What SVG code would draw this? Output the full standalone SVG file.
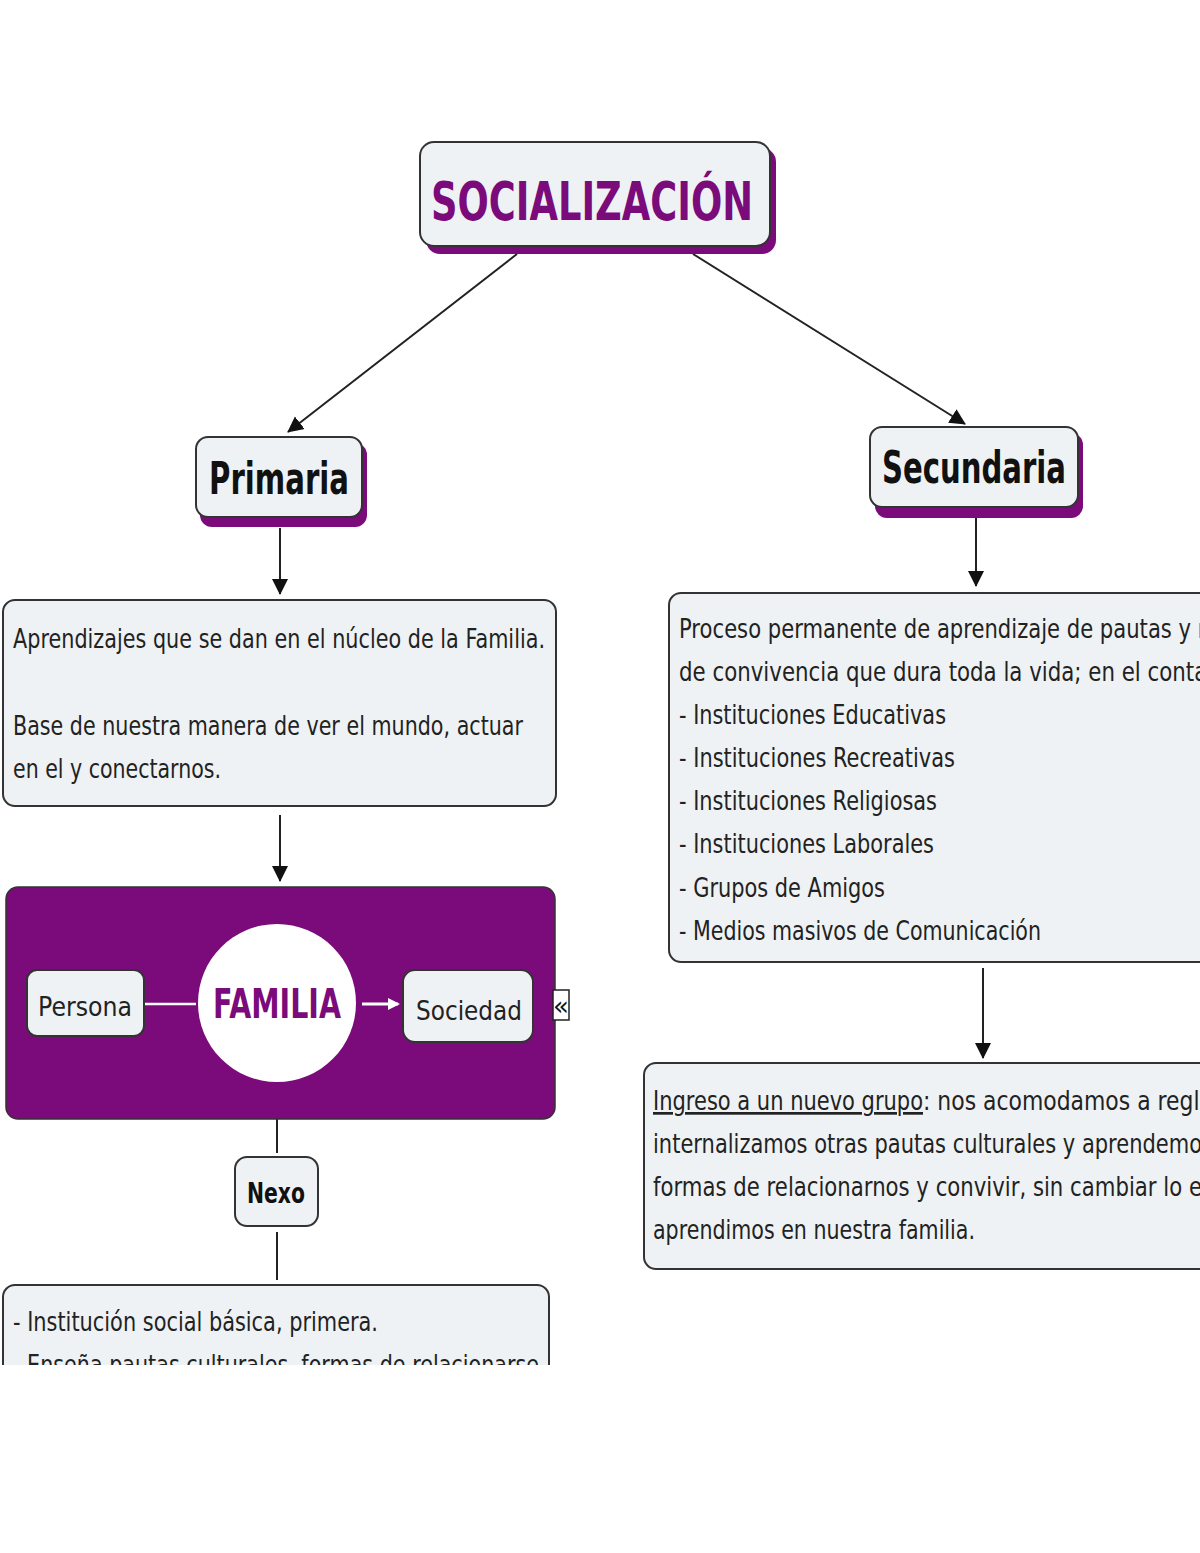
<svg xmlns="http://www.w3.org/2000/svg" width="1200" height="1553" viewBox="0 0 1200 1553">
<style>
.box{fill:#eef2f4;stroke:#333;stroke-width:2}
.sh{fill:#7b0a7b}
.t{font-family:"DejaVu Sans","Liberation Sans",sans-serif;font-size:27px;fill:#222}
.b{font-family:"DejaVu Sans","Liberation Sans",sans-serif;font-weight:bold;fill:#111}
.ln{stroke:#222;stroke-width:2;fill:none}
</style>
<defs>
<marker id="ah" markerWidth="16" markerHeight="18" refX="15" refY="8" orient="auto" markerUnits="userSpaceOnUse" viewBox="0 0 16 16"><path d="M0,0L16,8L0,16z" fill="#111"/></marker>
<marker id="aw" markerWidth="12" markerHeight="12" refX="10" refY="6" orient="auto" markerUnits="userSpaceOnUse" viewBox="0 0 12 12"><path d="M0,0L12,6L0,12z" fill="#fff"/></marker>
<clipPath id="clip"><rect x="0" y="0" width="1200" height="1365"/></clipPath>
</defs>
<rect width="1200" height="1553" fill="#fff"/>
<g clip-path="url(#clip)">
<g id="connectors">
<line class="ln" x1="517" y1="254" x2="288" y2="432" marker-end="url(#ah)"/>
<line class="ln" x1="693" y1="254" x2="965" y2="424" marker-end="url(#ah)"/>
<line class="ln" x1="280" y1="528" x2="280" y2="594" marker-end="url(#ah)"/>
<line class="ln" x1="976" y1="518" x2="976" y2="586" marker-end="url(#ah)"/>
<line class="ln" x1="280" y1="815" x2="280" y2="881" marker-end="url(#ah)"/>
<line class="ln" x1="983" y1="968" x2="983" y2="1058" marker-end="url(#ah)"/>
<line class="ln" x1="277" y1="1095" x2="277" y2="1153"/>
<line class="ln" x1="277" y1="1232" x2="277" y2="1280"/>
</g>
<g id="socializacion">
<rect x="426" y="148" width="350" height="106" rx="14" class="sh"/>
<rect x="420" y="142" width="350" height="104" rx="14" class="box"/>
<text x="592" y="220" text-anchor="middle" class="b" font-size="54" style="fill:#7b0a7b" textLength="322" lengthAdjust="spacingAndGlyphs">SOCIALIZACIÓN</text>
</g>
<g id="primaria">
<rect x="200" y="443" width="167" height="84" rx="12" class="sh"/>
<rect x="196" y="437" width="166" height="80" rx="12" class="box"/>
<text x="279" y="494" text-anchor="middle" class="b" font-size="44" textLength="140" lengthAdjust="spacingAndGlyphs">Primaria</text>
</g>
<g id="secundaria">
<rect x="875" y="433" width="208" height="85" rx="12" class="sh"/>
<rect x="870" y="427" width="208" height="80" rx="12" class="box"/>
<text x="974" y="483" text-anchor="middle" class="b" font-size="44" textLength="184" lengthAdjust="spacingAndGlyphs">Secundaria</text>
</g>
<g id="aprendizajes">
<rect x="3" y="600" width="553" height="206" rx="12" class="box"/>
<text class="t" x="13" y="648" textLength="532" lengthAdjust="spacingAndGlyphs">Aprendizajes que se dan en el núcleo de la Familia.</text>
<text class="t" x="13" y="735" textLength="510" lengthAdjust="spacingAndGlyphs">Base de nuestra manera de ver el mundo, actuar</text>
<text class="t" x="13" y="778" textLength="208" lengthAdjust="spacingAndGlyphs">en el y conectarnos.</text>
</g>
<g id="proceso">
<rect x="669" y="593" width="560" height="369" rx="12" class="box"/>
<text class="t" x="679" y="638" textLength="540" lengthAdjust="spacingAndGlyphs">Proceso permanente de aprendizaje de pautas y re</text>
<text class="t" x="679" y="681" textLength="540" lengthAdjust="spacingAndGlyphs">de convivencia que dura toda la vida; en el contac</text>
<text class="t" x="679" y="724" textLength="267" lengthAdjust="spacingAndGlyphs">- Instituciones Educativas</text>
<text class="t" x="679" y="767" textLength="276" lengthAdjust="spacingAndGlyphs">- Instituciones Recreativas</text>
<text class="t" x="679" y="810" textLength="258" lengthAdjust="spacingAndGlyphs">- Instituciones Religiosas</text>
<text class="t" x="679" y="853" textLength="255" lengthAdjust="spacingAndGlyphs">- Instituciones Laborales</text>
<text class="t" x="679" y="897" textLength="206" lengthAdjust="spacingAndGlyphs">- Grupos de Amigos</text>
<text class="t" x="679" y="940" textLength="362" lengthAdjust="spacingAndGlyphs">- Medios masivos de Comunicación</text>
</g>
<g id="familia-group">
<rect x="6" y="887" width="549" height="232" rx="12" fill="#7b0a7b" stroke="#333" stroke-width="1.5"/>
<line x1="144" y1="1004" x2="196" y2="1004" stroke="#fff" stroke-width="2.5"/>
<line x1="362" y1="1004" x2="398" y2="1004" stroke="#fff" stroke-width="3" marker-end="url(#aw)"/>
<g id="persona"><rect x="27" y="970" width="117" height="66" rx="10" class="box"/>
<text class="t" x="85" y="1016" text-anchor="middle" font-size="32" textLength="94" lengthAdjust="spacingAndGlyphs">Persona</text></g>
<g id="familia"><circle cx="277" cy="1003" r="79" fill="#fff"/>
<text x="277" y="1018" text-anchor="middle" class="b" font-size="40" style="fill:#7b0a7b" textLength="128" lengthAdjust="spacingAndGlyphs">FAMILIA</text></g>
<g id="sociedad"><rect x="403" y="970" width="130" height="72" rx="12" class="box"/>
<text class="t" x="469" y="1020" text-anchor="middle" font-size="32" textLength="106" lengthAdjust="spacingAndGlyphs">Sociedad</text></g>
</g>
<g id="icon"><rect x="553" y="990" width="16" height="30" fill="#fff" stroke="#222" stroke-width="1.5"/>
<text x="561" y="1015" text-anchor="middle" font-family="DejaVu Sans,sans-serif" font-size="26" fill="#111">«</text></g>
<g id="nexo">
<rect x="235" y="1157" width="83" height="69" rx="12" class="box"/>
<text x="276" y="1203" text-anchor="middle" class="b" font-size="28" textLength="58" lengthAdjust="spacingAndGlyphs">Nexo</text>
</g>
<g id="ingreso">
<rect x="644" y="1063" width="580" height="206" rx="12" class="box"/>
<text class="t" x="653" y="1110" text-decoration="underline" textLength="270" lengthAdjust="spacingAndGlyphs">Ingreso a un nuevo grupo</text>
<text class="t" x="923" y="1110" textLength="290" lengthAdjust="spacingAndGlyphs">: nos acomodamos a regla</text>
<text class="t" x="653" y="1153" textLength="560" lengthAdjust="spacingAndGlyphs">internalizamos otras pautas culturales y aprendemos</text>
<text class="t" x="653" y="1196" textLength="560" lengthAdjust="spacingAndGlyphs">formas de relacionarnos y convivir, sin cambiar lo es</text>
<text class="t" x="653" y="1239" textLength="322" lengthAdjust="spacingAndGlyphs">aprendimos en nuestra familia.</text>
</g>
<g id="institucion">
<rect x="3" y="1285" width="546" height="200" rx="12" class="box"/>
<text class="t" x="13" y="1331" textLength="365" lengthAdjust="spacingAndGlyphs">- Institución social básica, primera.</text>
<text class="t" x="13" y="1374" textLength="526" lengthAdjust="spacingAndGlyphs">- Enseña pautas culturales, formas de relacionarse</text>
</g>
</g>
</svg>
